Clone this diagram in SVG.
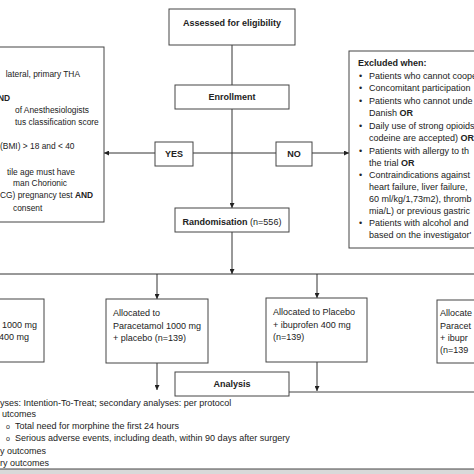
<svg xmlns="http://www.w3.org/2000/svg" width="474" height="474" viewBox="0 0 474 474">
<defs>
<style>
.box{fill:#fff;stroke:#444;stroke-width:1}
.ln{fill:none;stroke:#333;stroke-width:1}
text{font-family:"Liberation Sans",Arial,sans-serif;font-size:9px;fill:#222}
.s{font-size:8.4px}
.b{font-weight:bold}
.c{text-anchor:middle}
</style>
<marker id="ah" viewBox="0 0 6 6" refX="6" refY="3" markerWidth="5" markerHeight="5" orient="auto" markerUnits="userSpaceOnUse">
<path d="M0,0 L6,3 L0,6 z" fill="#222"/>
</marker>
</defs>
<rect width="474" height="474" fill="#fff"/>

<g id="connectors">
<line class="ln" x1="232" y1="45" x2="232" y2="85"/>
<line class="ln" x1="232" y1="109" x2="232" y2="208" marker-end="url(#ah)"/>
<line class="ln" x1="155" y1="153" x2="104" y2="153" marker-end="url(#ah)"/>
<line class="ln" x1="193" y1="153" x2="232" y2="153"/>
<line class="ln" x1="232" y1="153" x2="276" y2="153"/>
<line class="ln" x1="312" y1="153" x2="349" y2="153" marker-end="url(#ah)"/>
<line class="ln" x1="232" y1="232" x2="232" y2="274" marker-end="url(#ah)"/>
<line class="ln" x1="0" y1="274" x2="474" y2="274"/>
<line class="ln" x1="157" y1="274" x2="157" y2="299" marker-end="url(#ah)"/>
<line class="ln" x1="317" y1="274" x2="317" y2="298" marker-end="url(#ah)"/>
<line class="ln" x1="157" y1="363" x2="157" y2="390" marker-end="url(#ah)"/>
<line class="ln" x1="317" y1="362" x2="317" y2="391" marker-end="url(#ah)"/>
</g>

<g id="outcomes">
<rect x="-2" y="469" width="478" height="8" fill="#d9d9d9"/>
<line class="ln" x1="-2" y1="469" x2="476" y2="469" style="stroke:#444"/>
<line class="ln" x1="289" y1="392" x2="476" y2="392" style="stroke:#444"/>
<text x="0" y="406">yses: Intention-To-Treat; secondary analyses: per protocol</text>
<text x="2" y="417">utcomes</text>
<text x="6" y="429" style="font-size:7px">o</text>
<text x="15" y="429">Total need for morphine the first 24 hours</text>
<text x="6" y="441" style="font-size:7px">o</text>
<text x="15" y="441">Serious adverse events, including death, within 90 days after surgery</text>
<text x="0" y="454">y outcomes</text>
<text x="0" y="466">ry outcomes</text>
</g>

<g id="assessed">
<rect class="box" x="169" y="9" width="126" height="36"/>
<text class="b c" x="232" y="26">Assessed for eligibility</text>
</g>

<g id="enrollment">
<rect class="box" x="175" y="85" width="114" height="24"/>
<text class="b c" x="232" y="100">Enrollment</text>
</g>

<g id="inclusion">
<rect class="box" x="-2" y="47" width="106" height="175"/>
<text class="s" x="80" y="77" text-anchor="end">lateral, primary THA</text>
<text class="s b" x="10" y="101" text-anchor="end">ND</text>
<text class="s" x="15" y="113">of Anesthesiologists</text>
<text class="s" x="15" y="125">tus classification score</text>
<text class="s" x="0" y="149">(BMI) &gt; 18 and &lt; 40</text>
<text class="s" x="7" y="175">tile age must have</text>
<text class="s" x="13" y="186">man Chorionic</text>
<text class="s" x="0" y="198">CG) pregnancy test <tspan class="b">AND</tspan></text>
<text class="s" x="13" y="211">consent</text>
</g>

<g id="yes">
<rect class="box" x="155" y="142" width="38" height="24"/>
<text class="b c" x="174" y="157">YES</text>
</g>

<g id="no">
<rect class="box" x="276" y="142" width="36" height="24"/>
<text class="b c" x="294" y="157">NO</text>
</g>

<g id="exclusion">
<rect class="box" x="349" y="51" width="130" height="197"/>
<text class="b" x="358" y="66">Excluded when:</text>
<text x="359" y="79">•</text><text x="369" y="79">Patients who cannot coope</text>
<text x="359" y="91">•</text><text x="369" y="91">Concomitant participation</text>
<text x="359" y="104">•</text><text x="369" y="104">Patients who cannot unde</text>
<text x="369" y="116">Danish <tspan class="b">OR</tspan></text>
<text x="359" y="129">•</text><text x="369" y="129">Daily use of strong opioids</text>
<text x="369" y="141">codeine are accepted) <tspan class="b">OR</tspan></text>
<text x="359" y="154">•</text><text x="369" y="154">Patients with allergy to th</text>
<text x="369" y="166">the trial <tspan class="b">OR</tspan></text>
<text x="359" y="178">•</text><text x="369" y="178">Contraindications against</text>
<text x="369" y="190">heart failure, liver failure,</text>
<text x="369" y="202">60 ml/kg/1,73m2), thromb</text>
<text x="369" y="214">mia/L) or previous gastric</text>
<text x="359" y="226">•</text><text x="369" y="226">Patients  with alcohol and</text>
<text x="369" y="238">based on the investigator'</text>
</g>

<g id="randomisation">
<rect class="box" x="175" y="208" width="114" height="24"/>
<text class="c" x="232" y="225"><tspan class="b">Randomisation</tspan> (n=556)</text>
</g>

<g id="group1">
<rect class="box" x="-58" y="299" width="102" height="63"/>
<text x="37" y="328" text-anchor="end">1000 mg</text>
<text x="29" y="340" text-anchor="end">400 mg</text>
</g>

<g id="group2">
<rect class="box" x="106" y="299" width="102" height="64"/>
<text x="113" y="316">Allocated to</text>
<text x="113" y="329">Paracetamol 1000 mg</text>
<text x="113" y="341">+ placebo (n=139)</text>
</g>

<g id="group3">
<rect class="box" x="266" y="298" width="101" height="64"/>
<text x="273" y="315">Allocated to Placebo</text>
<text x="273" y="328">+ ibuprofen 400 mg</text>
<text x="273" y="340">(n=139)</text>
</g>

<g id="group4">
<rect class="box" x="437" y="300" width="102" height="63"/>
<text x="440" y="316">Allocate</text>
<text x="440" y="329">Paracet</text>
<text x="440" y="341">+ ibupr</text>
<text x="440" y="353">(n=139</text>
</g>

<g id="analysis">
<rect class="box" x="175" y="372" width="114" height="24"/>
<text class="b c" x="232" y="387">Analysis</text>
</g>
</svg>
